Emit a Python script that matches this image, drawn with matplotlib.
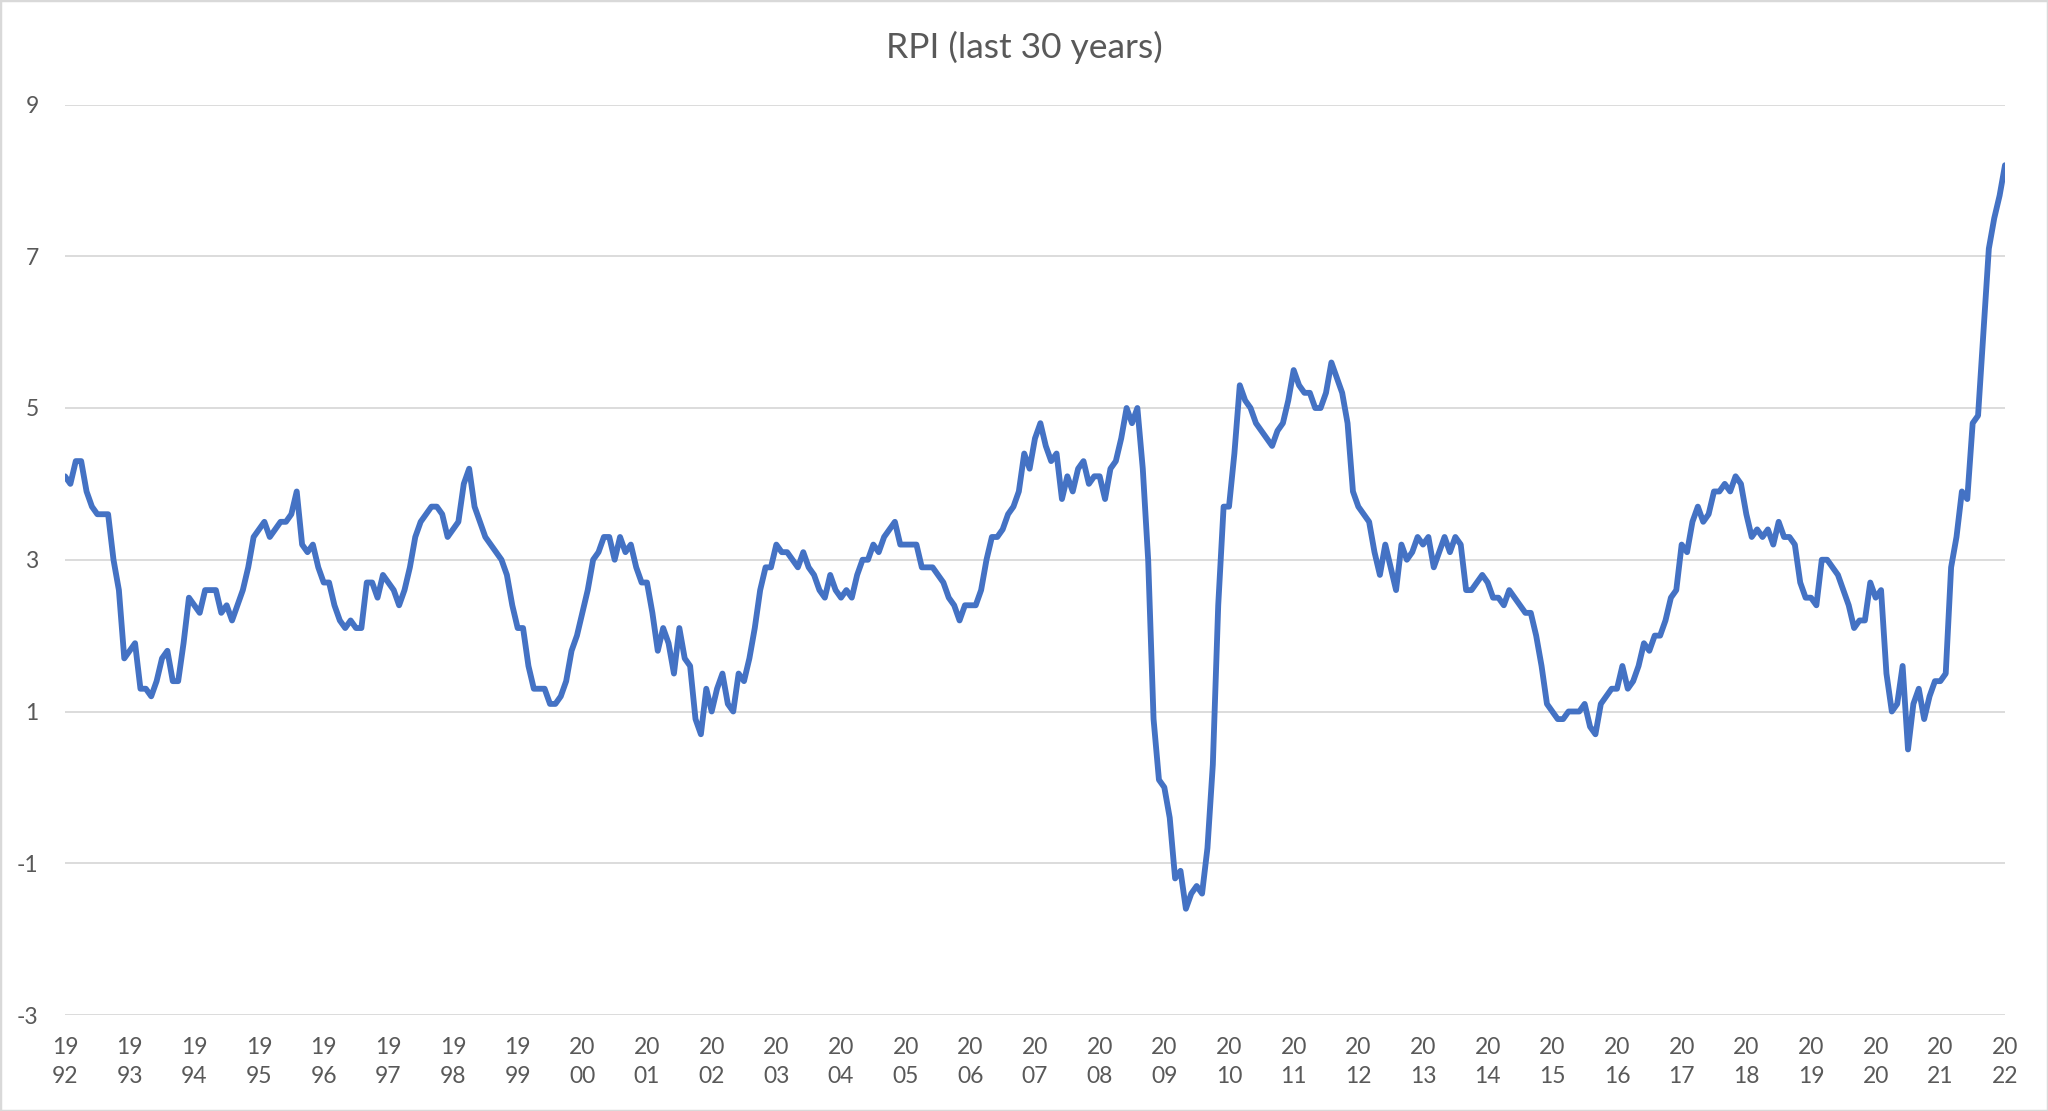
import matplotlib.pyplot as plt
from matplotlib.patches import Rectangle
import numpy as np

# RPI annual % change, monthly, Feb 1992 - Feb 2022
rpi_1992 = [4.1, 4.0, 4.3, 4.3, 3.9, 3.7, 3.6, 3.6, 3.6, 3.0, 2.6]
rpi_1993 = [1.7, 1.8, 1.9, 1.3, 1.3, 1.2, 1.4, 1.7, 1.8, 1.4, 1.4, 1.9]
rpi_1994 = [2.5, 2.4, 2.3, 2.6, 2.6, 2.6, 2.3, 2.4, 2.2, 2.4, 2.6, 2.9]
rpi_1995 = [3.3, 3.4, 3.5, 3.3, 3.4, 3.5, 3.5, 3.6, 3.9, 3.2, 3.1, 3.2]
rpi_1996 = [2.9, 2.7, 2.7, 2.4, 2.2, 2.1, 2.2, 2.1, 2.1, 2.7, 2.7, 2.5]
rpi_1997 = [2.8, 2.7, 2.6, 2.4, 2.6, 2.9, 3.3, 3.5, 3.6, 3.7, 3.7, 3.6]
rpi_1998 = [3.3, 3.4, 3.5, 4.0, 4.2, 3.7, 3.5, 3.3, 3.2, 3.1, 3.0, 2.8]
rpi_1999 = [2.4, 2.1, 2.1, 1.6, 1.3, 1.3, 1.3, 1.1, 1.1, 1.2, 1.4, 1.8]
rpi_2000 = [2.0, 2.3, 2.6, 3.0, 3.1, 3.3, 3.3, 3.0, 3.3, 3.1, 3.2, 2.9]
rpi_2001 = [2.7, 2.7, 2.3, 1.8, 2.1, 1.9, 1.5, 2.1, 1.7, 1.6, 0.9, 0.7]
rpi_2002 = [1.3, 1.0, 1.3, 1.5, 1.1, 1.0, 1.5, 1.4, 1.7, 2.1, 2.6, 2.9]
rpi_2003 = [2.9, 3.2, 3.1, 3.1, 3.0, 2.9, 3.1, 2.9, 2.8, 2.6, 2.5, 2.8]
rpi_2004 = [2.6, 2.5, 2.6, 2.5, 2.8, 3.0, 3.0, 3.2, 3.1, 3.3, 3.4, 3.5]
rpi_2005 = [3.2, 3.2, 3.2, 3.2, 2.9, 2.9, 2.9, 2.8, 2.7, 2.5, 2.4, 2.2]
rpi_2006 = [2.4, 2.4, 2.4, 2.6, 3.0, 3.3, 3.3, 3.4, 3.6, 3.7, 3.9, 4.4]
rpi_2007 = [4.2, 4.6, 4.8, 4.5, 4.3, 4.4, 3.8, 4.1, 3.9, 4.2, 4.3, 4.0]
rpi_2008 = [4.1, 4.1, 3.8, 4.2, 4.3, 4.6, 5.0, 4.8, 5.0, 4.2, 3.0, 0.9]
rpi_2009 = [0.1, 0.0, -0.4, -1.2, -1.1, -1.6, -1.4, -1.3, -1.4, -0.8, 0.3, 2.4]
rpi_2010 = [3.7, 3.7, 4.4, 5.3, 5.1, 5.0, 4.8, 4.7, 4.6, 4.5, 4.7, 4.8]
rpi_2011 = [5.1, 5.5, 5.3, 5.2, 5.2, 5.0, 5.0, 5.2, 5.6, 5.4, 5.2, 4.8]
rpi_2012 = [3.9, 3.7, 3.6, 3.5, 3.1, 2.8, 3.2, 2.9, 2.6, 3.2, 3.0, 3.1]
rpi_2013 = [3.3, 3.2, 3.3, 2.9, 3.1, 3.3, 3.1, 3.3, 3.2, 2.6, 2.6, 2.7]
rpi_2014 = [2.8, 2.7, 2.5, 2.5, 2.4, 2.6, 2.5, 2.4, 2.3, 2.3, 2.0, 1.6]
rpi_2015 = [1.1, 1.0, 0.9, 0.9, 1.0, 1.0, 1.0, 1.1, 0.8, 0.7, 1.1, 1.2]
rpi_2016 = [1.3, 1.3, 1.6, 1.3, 1.4, 1.6, 1.9, 1.8, 2.0, 2.0, 2.2, 2.5]
rpi_2017 = [2.6, 3.2, 3.1, 3.5, 3.7, 3.5, 3.6, 3.9, 3.9, 4.0, 3.9, 4.1]
rpi_2018 = [4.0, 3.6, 3.3, 3.4, 3.3, 3.4, 3.2, 3.5, 3.3, 3.3, 3.2, 2.7]
rpi_2019 = [2.5, 2.5, 2.4, 3.0, 3.0, 2.9, 2.8, 2.6, 2.4, 2.1, 2.2, 2.2]
rpi_2020 = [2.7, 2.5, 2.6, 1.5, 1.0, 1.1, 1.6, 0.5, 1.1, 1.3, 0.9, 1.2]
rpi_2021 = [1.4, 1.4, 1.5, 2.9, 3.3, 3.9, 3.8, 4.8, 4.9, 6.0, 7.1, 7.5]
rpi_2022 = [7.8, 8.2]

years = list(range(1992, 2023))
y_ticks = [-3, -1, 1, 3, 5, 7, 9]

rpi = (rpi_1992 + rpi_1993 + rpi_1994 + rpi_1995 + rpi_1996 + rpi_1997 + rpi_1998
       + rpi_1999 + rpi_2000 + rpi_2001 + rpi_2002 + rpi_2003 + rpi_2004 + rpi_2005
       + rpi_2006 + rpi_2007 + rpi_2008 + rpi_2009 + rpi_2010 + rpi_2011 + rpi_2012
       + rpi_2013 + rpi_2014 + rpi_2015 + rpi_2016 + rpi_2017 + rpi_2018 + rpi_2019
       + rpi_2020 + rpi_2021 + rpi_2022)
x = np.arange(len(rpi))

plt.rcParams['font.family'] = ['Lato', 'DejaVu Sans']
txt = '#595959'

fig = plt.figure(figsize=(20.48, 11.11), dpi=100)
ax = fig.add_axes([65 / 2048, 1 - 1015 / 1111, 1940 / 2048, 910.5 / 1111])

ax.plot(x, rpi, color='#4472C4', linewidth=4.2, solid_joinstyle='round', solid_capstyle='round', zorder=3)

ax.set_xlim(0, len(rpi) - 1)
ax.set_ylim(-3, 9)
ax.set_yticks(y_ticks)
ax.set_yticklabels([str(v) for v in y_ticks])
ax.set_xticks(x[::12])
ax.set_xticklabels([f"{y // 100}\n{y % 100:02d}" for y in years], linespacing=1.45)
ax.tick_params(axis='both', length=0, colors=txt, labelsize=16.5)
ax.tick_params(axis='y', pad=19)
ax.tick_params(axis='x', pad=16)
ax.grid(axis='y', color='#d9d9d9', linewidth=1.3)
ax.set_axisbelow(True)
for s in ax.spines.values():
    s.set_visible(False)

fig.text(0.5, 1 - 47 / 1111, "RPI (last 30 years)", ha='center', va='center', fontsize=25.5, color=txt)
fig.patches.append(Rectangle((0, 0), 1, 1, transform=fig.transFigure, fill=False,
                             edgecolor='#d9d9d9', linewidth=2.5))

plt.savefig('out.png', dpi=100)
